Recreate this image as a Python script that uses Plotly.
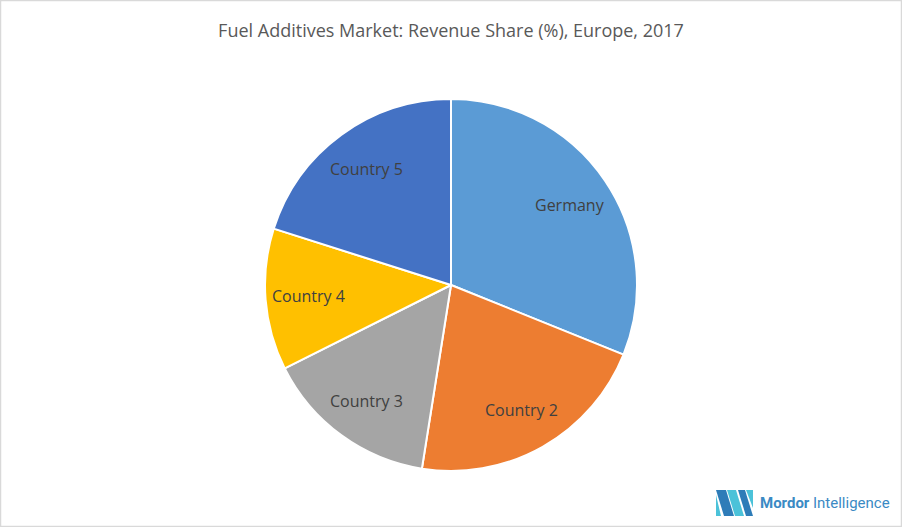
import math
import plotly.graph_objects as go

labels = ["Germany", "Country 2", "Country 3", "Country 4", "Country 5"]
values = [31.1, 21.4, 15.1, 12.3, 20.1]
colors = ["#5B9BD5", "#ED7D31", "#A5A5A5", "#FFC000", "#4472C4"]
title = "Fuel Additives Market: Revenue Share (%), Europe, 2017"

W, H = 902, 527
cx, cy, r = 451, 285, 186

fig = go.Figure(go.Pie(
    labels=labels, values=values, sort=False, direction="clockwise", rotation=0,
    marker=dict(colors=colors, line=dict(color="white", width=2)),
    textinfo="none",
    hoverinfo="label+percent",
    domain=dict(x=[(cx - r) / W, (cx + r) / W], y=[1 - (cy + r) / H, 1 - (cy - r) / H]),
    showlegend=False,
))

shapes = [
    dict(type="rect", xref="paper", yref="paper", x0=0.5 / W, x1=1 - 0.5 / W, y0=0.5 / H, y1=1 - 0.5 / H,
         line=dict(color="#D9D9D9", width=1.5), fillcolor="rgba(0,0,0,0)"),
]

def P(x, y):
    return f"{x / W:.5f},{1 - y / H:.5f}"

# logo icon stripes
icon = [
    ([(716, 490), (726, 490), (734, 516), (724, 516)], "#2E7CB8"),
    ([(716, 495), (721, 516), (716, 516)], "#4BC2D9"),
    ([(727, 490), (736, 490), (744, 516), (735, 516)], "#4BC2D9"),
    ([(738, 490), (745, 490), (753, 516), (746, 516)], "#2E7CB8"),
    ([(746, 490), (753, 490), (753, 508)], "#4BC2D9"),
]
for pts, c in icon:
    path = "M " + " L ".join(P(x, y) for x, y in pts) + " Z"
    shapes.append(dict(type="path", xref="paper", yref="paper", path=path,
                       fillcolor=c, line=dict(width=0)))

# slice labels placed at mid-angle of each slice
annotations = []
total = sum(values)
cum = 0.0
for lab, v in zip(labels, values):
    mid = (cum + v / 2) / total * 2 * math.pi
    cum += v
    lx = cx + 0.77 * r * math.sin(mid)
    ly = cy - 0.77 * r * math.cos(mid)
    annotations.append(dict(text=lab, x=lx / W, y=1 - ly / H, xref="paper", yref="paper",
                            xanchor="center", yanchor="middle", showarrow=False,
                            font=dict(family="Open Sans", size=16, color="#404040")))

annotations += [
    dict(text="<b>Mordor</b>", x=758 / W, y=1 - 503 / H, xref="paper", yref="paper",
         xanchor="left", yanchor="middle", showarrow=False,
         font=dict(family="Roboto", size=15, color="#3A8AC4")),
    dict(text="Intelligence", x=811 / W, y=1 - 503 / H, xref="paper", yref="paper",
         xanchor="left", yanchor="middle", showarrow=False,
         font=dict(family="Roboto", size=15, color="#3A8AC4")),
]

fig.update_layout(
    width=W, height=H,
    margin=dict(l=0, r=0, t=0, b=0),
    paper_bgcolor="white", plot_bgcolor="white",
    title=dict(text=title, x=0.5, xanchor="center", y=1 - 31 / H, yanchor="middle",
               font=dict(family="Open Sans", size=18, color="#595959")),
    shapes=shapes,
    annotations=annotations,
)

fig.write_html("out.html", config={"displayModeBar": False},
               post_script="document.body.style.margin='0';document.body.style.overflow='hidden';")
